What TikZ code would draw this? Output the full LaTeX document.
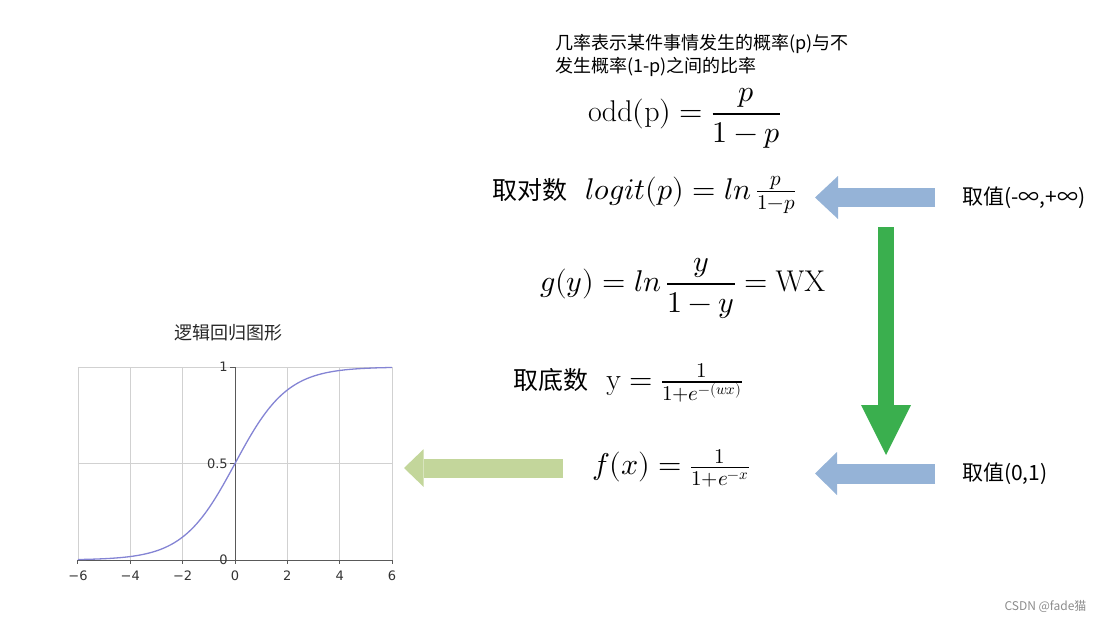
\documentclass[tikz,border=0pt]{standalone}
\usepackage{fontspec}
\usepackage{unicode-math}
\usepackage{tikz}
\usetikzlibrary{ % tikz packages
    arrows.meta,positioning
}
\newfontfamily\cjk{Noto Sans CJK SC}
\newfontfamily\plotfont{DejaVu Sans}
\newcommand{\cjkpart}[1]{{\cjk\fontsize{25}{30}\selectfont #1}}
\definecolor{arrowblue}{HTML}{95B3D7}
\definecolor{arrowgreen}{HTML}{3AAF4E}
\definecolor{arrowolive}{HTML}{C3D69B}
\definecolor{curveblue}{HTML}{8484D4}
\tikzset{
    note/.style={font=\cjk\fontsize{18}{23}\selectfont, align=left, inner sep=0pt, anchor=west},
    formula/.style={font=\fontsize{30}{34}\selectfont, inner sep=0pt, anchor=west},
    rangelabel/.style={font=\cjk\fontsize{21}{25}\selectfont, inner sep=0pt, anchor=west},
    fatarrow/.style n args={4}{draw=#1, line width=#2,
        -{Triangle[length=#3, width=#4, line width=0pt]}},
    gridline/.style={draw=black!18, line width=0.8pt},
    axisline/.style={draw=black!65, line width=1pt},
    ticklabel/.style={font=\plotfont\fontsize{13}{15}\selectfont, text=black!80, inner sep=0pt}
}

\begin{document}
\begin{tikzpicture}[x=1pt, y=-1pt]
    \useasboundingbox (0,0) rectangle (1104,621);

    % formulas
    \node[note] (ratio) at (555,55.5) {几率表示某件事情发生的概率(p)与不\\发生概率(1-p)之间的比率};
    \node[formula] (odd) at (588,118)
        {$\displaystyle \mathrm{odd}(\mathrm{p}) = \frac{p}{1-p}$};
    \node[formula] (logit) at (492,195)
        {\cjkpart{取对数}\ \ $logit(p) = ln\,\frac{p}{1-p}$};
    \node[formula] (gy) at (540,288)
        {$\displaystyle g(y) = ln\,\frac{y}{1-y} = \mathrm{WX}$};
    \node[formula] (base) at (513,383)
        {\cjkpart{取底数}\ \ $\mathrm{y} = \frac{1}{1+e^{-(wx)}}$};
    \node[formula] (fx) at (592,468)
        {$f(x) = \frac{1}{1+e^{-x}}$};

    % ranges
    \node[rangelabel] (realrange) at (962,198) {取值(-∞,+∞)};
    \node[rangelabel] (unitrange) at (962,474) {取值(0,1)};

    % block arrows
    \coordinate (b1tail) at (935,197.5);
    \coordinate (b1tip) at (815,197.5);
    \coordinate (gtail) at (886,227);
    \coordinate (gtip) at (886,455);
    \coordinate (b2tail) at (935,473.5);
    \coordinate (b2tip) at (815,473.5);
    \coordinate (otail) at (563,468);
    \coordinate (otip) at (404,468);
    \draw[fatarrow={arrowblue}{19pt}{23pt}{43pt}] (b1tail) -- (b1tip);
    \draw[fatarrow={arrowgreen}{16.6pt}{50pt}{50pt}] (gtail) -- (gtip);
    \draw[fatarrow={arrowblue}{20pt}{22pt}{43pt}] (b2tail) -- (b2tip);
    \draw[fatarrow={arrowolive}{19pt}{19.5pt}{37.5pt}] (otail) -- (otip);

    % sigmoid plot
    \node[font=\cjk\fontsize{18}{22}\selectfont, text=black!85] (plottitle) at (228,333) {逻辑回归图形};
    \begin{scope}[shift={(235,560)}, x=26.17pt, y=193pt]
        \draw[gridline] (-6,0) grid[xstep=2, ystep=0.5] (6,1);
        \draw[axisline] (-6,0) -- (6,0);
        \draw[axisline] (0,0) -- (0,1);
        \foreach \t/\lab in {-6/−6, -4/−4, -2/−2, 0/0, 2/2, 4/4, 6/6} {
            \draw[axisline] (\t,0) -- ++(0,-4pt);
            \node[ticklabel] (xl\t) at (\t,-0.083) {\lab};
        }
        \foreach \v/\lab/\name in {0/0/yzero, 0.5/0.5/yhalf, 1/1/yone} {
            \draw[axisline] (0,\v) -- ++(-5pt,0);
            \node[ticklabel, anchor=east] (\name) at (-0.27,\v) {\lab};
        }
        \draw[curveblue, line width=1.3pt, domain=-6:6, samples=120]
            plot (\x, {1/(1+exp(-\x))});
    \end{scope}

    \node[font=\cjk\fontsize{12}{14}\selectfont, text=black!45, anchor=east] (mark) at (1090,606) {CSDN @fade猫};
\end{tikzpicture}
\end{document}
